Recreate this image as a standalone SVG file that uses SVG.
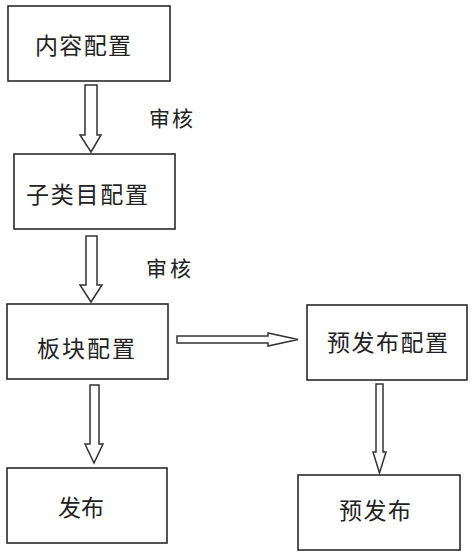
<svg xmlns="http://www.w3.org/2000/svg" width="474" height="557" viewBox="0 0 474 557">
<style>
.box{fill:#fff;stroke:#2a2a2a;stroke-width:1.6}
.t{font-family:"Noto Sans CJK SC","Noto Sans",sans-serif;font-size:23px;fill:#222}
.l{font-family:"Noto Sans CJK SC","Noto Sans",sans-serif;font-size:21px;fill:#222}
.arr{fill:#fff;stroke:#333;stroke-width:1.5;stroke-linejoin:miter}
</style>
<rect width="474" height="557" fill="#fff"/>
<g id="n1"><rect class="box" x="8" y="6" width="162" height="75"/><text class="t" x="35" y="54" textLength="96">内容配置</text></g>
<g id="n2"><rect class="box" x="14" y="154" width="161" height="75"/><text class="t" x="26" y="203" textLength="122">子类目配置</text></g>
<g id="n3"><rect class="box" x="7" y="304" width="161" height="75"/><text class="t" x="37" y="357" textLength="98">板块配置</text></g>
<g id="n4"><rect class="box" x="307" y="305" width="160" height="75"/><text class="t" x="327" y="351" textLength="121">预发布配置</text></g>
<g id="n5"><rect class="box" x="7" y="468" width="160" height="75"/><text class="t" x="58" y="516" textLength="46">发布</text></g>
<g id="n6"><rect class="box" x="298" y="475" width="162" height="75"/><text class="t" x="339" y="519" textLength="72">预发布</text></g>
<g id="connectors">
<polygon class="arr" points="85,85 97,85 97,135 101,135 91,152 80,135 85,135"/>
<polygon class="arr" points="86,236 97,236 97,285 102,285 91,302 80,285 86,285"/>
<polygon class="arr" points="177,336 268,336 268,333 298,339.5 268,346 268,343 177,343"/>
<polygon class="arr" points="90,385 99,385 99,444 103,444 94,463 85,444 90,444"/>
<polygon class="arr" points="376,384 383,384 383,452 386,452 379.5,473 373,452 376,452"/>
<text class="l" x="149" y="126" textLength="44">审核</text>
<text class="l" x="146" y="276" textLength="45">审核</text>
</g>
</svg>
